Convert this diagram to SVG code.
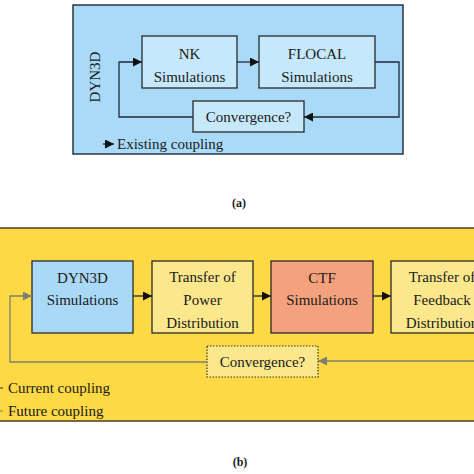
<svg xmlns="http://www.w3.org/2000/svg" width="474" height="474" viewBox="0 0 474 474">
<defs>
<style>
text{font-family:"Liberation Serif","Times New Roman",serif;font-size:15px;fill:#1a1a1a;text-anchor:middle}
.cap{font-size:12px;font-weight:bold}
.lg{text-anchor:start}
.box{stroke:#2a2a2a;stroke-width:1.3}
.bl{fill:#c6e8fb}
.k{fill:none;stroke:#1e2b38;stroke-width:1.3}
.g{fill:none;stroke:#7f7f70;stroke-width:1.3}
</style>
<marker id="ak" viewBox="0 0 10 10" refX="10" refY="5" markerWidth="9" markerHeight="9" orient="auto" markerUnits="userSpaceOnUse"><path d="M0,0 L10,5 L0,10 z" fill="#111"/></marker>
<marker id="ag" viewBox="0 0 10 10" refX="10" refY="5" markerWidth="9" markerHeight="9" orient="auto" markerUnits="userSpaceOnUse"><path d="M0,0 L10,5 L0,10 z" fill="#7f7f70"/></marker>
</defs>
<rect width="474" height="474" fill="#ffffff"/>
<g id="panel-a">
<rect x="73" y="5" width="330" height="149" fill="#a9dbf8" stroke="#2a3540" stroke-width="1.5"/>
<text transform="translate(100,77) rotate(-90)" font-size="16">DYN3D</text>
</g>
<g id="nk"><rect class="box bl" x="142" y="36" width="95" height="52"/><text x="189.5" y="59">NK</text><text x="189.5" y="82">Simulations</text></g>
<g id="flocal"><rect class="box bl" x="259" y="36" width="116" height="52"/><text x="317" y="59">FLOCAL</text><text x="317" y="82">Simulations</text></g>
<g id="conv-a"><rect class="box bl" x="193" y="101" width="111" height="31"/><text x="248.5" y="121.5">Convergence?</text></g>
<g id="legend-a"><line class="k" x1="103" y1="144" x2="114" y2="144" marker-end="url(#ak)"/><text class="lg" x="117" y="149">Existing coupling</text></g>
<text class="cap" x="239" y="207">(a)</text>
<g id="panel-b"><rect x="-2" y="228" width="478" height="193" fill="#fcd945" stroke="#4a4020" stroke-width="1.5"/></g>
<g id="dyn3d"><rect class="box" x="32" y="261" width="101" height="72" fill="#a9d9f6"/><text x="82.5" y="283">DYN3D</text><text x="82.5" y="305">Simulations</text></g>
<g id="tpd"><rect class="box" x="152" y="261" width="101" height="72" fill="#fbe78c"/><text x="202.5" y="282">Transfer of</text><text x="202.5" y="305">Power</text><text x="202.5" y="328">Distribution</text></g>
<g id="ctf"><rect class="box" x="271" y="261" width="102" height="72" fill="#f4a27d"/><text x="322" y="283">CTF</text><text x="322" y="305">Simulations</text></g>
<g id="tfd"><rect class="box" x="391" y="261" width="102" height="72" fill="#fbe78c"/><text x="442" y="282">Transfer of</text><text x="442" y="305">Feedback</text><text x="442" y="328">Distribution</text></g>
<g id="conv-b"><rect x="207" y="346" width="111" height="31" fill="#fbe78c" stroke="#3a3520" stroke-width="1.2" stroke-dasharray="1.5,1.5"/><text x="262.5" y="367">Convergence?</text></g>
<g id="legend-b"><line x1="-2" y1="388" x2="3" y2="388" stroke="#333" stroke-width="1"/><line x1="-2" y1="411" x2="3" y2="411" stroke="#777" stroke-width="1"/><text class="lg" x="8" y="393">Current coupling</text><text class="lg" x="8" y="416">Future coupling</text></g>
<text class="cap" x="240" y="466">(b)</text>
<g id="connectors">
<line class="k" x1="237" y1="62" x2="259" y2="62" marker-end="url(#ak)"/>
<polyline class="k" points="375,62 399,62 399,117 304,117" marker-end="url(#ak)"/>
<polyline class="k" points="193,117 119,117 119,62 142,62" marker-end="url(#ak)"/>
<line class="k" x1="133" y1="296" x2="152" y2="296" marker-end="url(#ak)"/>
<line class="k" x1="253" y1="296" x2="271" y2="296" marker-end="url(#ak)"/>
<line class="k" x1="373" y1="296" x2="391" y2="296" marker-end="url(#ak)"/>
<line class="g" x1="476" y1="361" x2="318" y2="361" marker-end="url(#ag)"/>
<polyline class="g" points="207,362 10,362 10,296 32,296" marker-end="url(#ag)"/>
</g>
</svg>
